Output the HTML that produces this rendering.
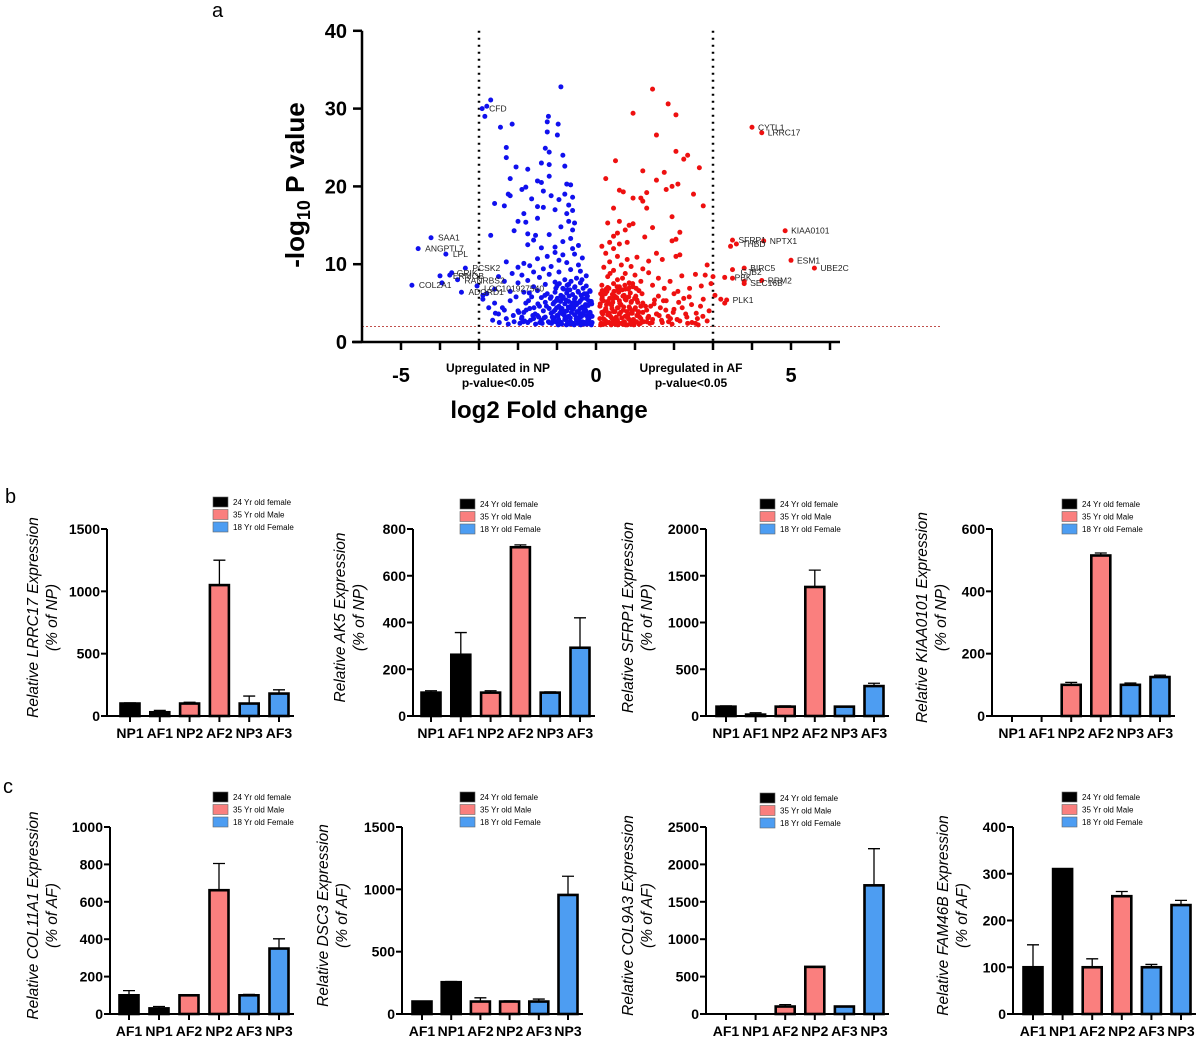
<!DOCTYPE html>
<html><head><meta charset="utf-8">
<style>
html,body{margin:0;padding:0;background:#fff;}
svg{display:block;font-family:"Liberation Sans",sans-serif;}
</style></head>
<body>
<svg id="fig" width="1200" height="1037" viewBox="0 0 1200 1037">
<text x="212" y="17" font-size="20">a</text>
<text x="5" y="503" font-size="20">b</text>
<text x="3" y="793" font-size="20">c</text>
<g id="volcano"></g>
<g id="bars"></g>
</svg>
<script>
// ---------- Volcano data ----------
const blueLfc = [-0.9,-2.7,-2.8,-2.92,-2.85,-1.22,-1.25,-0.97,-2.15,-2.45,-1.25,-0.99,-2.3,-2.3,-1.3,-1.2,-0.85,-1.4,-1.2,-0.8,-1.75,-2.05,-1.2,-0.65,-0.75,-2.2,-1.5,-1.4,-1.8,-1.9,-0.8,-2.2,-2.25,-1.15,-1.35,-1.65,-0.95,-0.6,-2.35,-1.35,-1.5,-0.7,-2.6,-0.75,-0.6,-1.05,-1.5,-1.85,-0.7,-0.55,-1.8,-2.0,-2.1,-0.9,-0.6,-1.75,-1.55,-1.2,-0.65,-0.85,-2.7,-1.6,-1.75,-0.45,-1.4,-1.05,-0.6,
-2.3,-2.0,-1.85,-1.7,-1.5,-1.25,-1.05,-0.85,-0.55,-0.35,-0.95,-0.75,-0.45,-1.15,-1.35,-1.6,-1.9,-2.15,-2.5,-2.35,-2.0,-1.75,-1.45,-1.2,-0.95,-0.65,-0.4,-0.25,-0.5,-0.8,-1.05,-1.3,-1.6,-2.6,-2.2,-1.85,
-1.0,-0.85,-0.7,-0.55,-0.4,-0.25,-0.15,-0.3,-0.45,-0.6,-0.75,-0.9,-1.05,-1.15,-1.0,-0.85,-0.7,-0.55,-0.4,-0.25,-0.12,-0.2,-0.35,-0.5,-0.65,-0.8,-0.95,-1.1,-1.2,-1.05,-0.9,-0.75,-0.6,-0.45,-0.3,-0.15,-0.1,-0.25,-0.4,-0.55,-0.7,-0.85,-1.0,-1.15,-1.3,-1.1,-0.95,-0.8,-0.65,-0.5,-0.35,-0.2,-0.1,-0.3,-0.6,-0.9,-1.2,-1.4,-1.5,-1.35,-1.45,-1.3,-1.4,-1.25,-1.5,
-0.18,-0.32,-0.48,-0.62,-0.78,-0.92,-1.08,-0.22,-0.38,-0.52,-0.68,-0.82,-0.98,-0.28,-0.42,-0.58,-0.72,-0.88,-1.02,-0.14,-0.36,-0.64,-0.86,
-2.9,-2.8,-2.6,-2.5,-2.4,-2.3,-2.2,-2.1,-2.0,-1.9,-1.8,-1.75,-1.7,-1.65,-1.6,-1.55,-2.65,-1.95,-2.25,-2.75,-1.85,-2.05,
-4.23,-4.56,-3.85,-4.72,-3.35,-3.7,-3.75,-4.0,-3.55,-3.95,-3.45,-3.05,-2.9];
const blueP = [32.8,31.1,30.3,30,29,29,28.3,28,28,27.6,27,26.6,25,23.7,24.9,24.4,24,23,22.8,22.6,22.2,22.5,21.3,20.2,20.3,21,20.7,20.5,19.9,19.6,19,18.8,19,18.8,19.4,18.4,18.3,18.6,17.5,17.3,17.4,17.6,17.8,16.5,16.9,17,15.9,16.5,15.5,15.3,15.4,15.5,14.3,14.8,14.4,13.9,13.7,13.8,13.3,12.9,13.7,13.1,12.5,12.4,12.1,12.2,12,
10.3,9.6,10.1,9.8,10.7,11,11.5,11.2,11.3,10.8,10.5,10.2,9.9,9.7,9.4,9,8.6,8.8,8.4,7.8,7.6,7.9,8.3,8.7,9,9.3,9.1,8.5,8.2,8,7.7,7.4,7.1,6.8,6.5,6.4,
7.2,6.9,7.4,7,7.6,7.2,6.5,6.2,6.4,6.1,6.3,6,6.4,5.8,5.4,5.6,5.2,5.5,5.3,5.6,5.2,4.7,4.5,4.8,4.6,4.9,4.6,4.9,4.3,4.1,4.2,4,4.2,3.9,4.1,3.8,3.3,3.4,3.2,3.5,3.3,3.6,3.4,3.7,3.2,2.9,2.7,2.9,2.6,2.8,2.6,2.8,2.5,2.3,2.3,2.4,2.5,2.8,3.4,4,4.6,5.1,5.7,6.2,6.6,
3.0,2.5,3.1,2.4,3.0,2.5,3.1,5.9,6.0,5.0,4.4,3.9,3.3,4.4,3.6,5.0,6.7,5.8,5.3,3.5,8.0,7.8,4.0,
5.5,6.2,5,3.6,4.4,3,5.3,2.6,4,3.2,5,2.5,4.3,5.8,3,2.3,2.8,2.4,2.3,4.4,3.8,5.8,
13.4,12.0,11.3,7.3,9.5,8.9,8.6,8.5,8.0,7.6,6.4,7.2,6.0];
const blueCoreLfc = [-0.13,-0.21,-0.29,-0.37,-0.44,-0.51,-0.59,-0.66,-0.73,-0.81,-0.89,-0.96,-1.04,-1.12,-0.17,-0.26,-0.34,-0.41,-0.49,-0.57,-0.63,-0.71,-0.79,-0.87,-0.93,-1.01,-1.09,-0.11,-0.19,-0.27,-0.35,-0.43,-0.53,-0.61,-0.69,-0.77,-0.84,-0.91,-0.99,-1.07,-0.16,-0.24,-0.33,-0.46,-0.54,-0.67,-0.74,-0.83,-0.94,-1.03,-0.12,-0.23,-0.39,-0.47,-0.56,-0.68,-0.76,-0.88,-0.97,-1.14,
-1.22,-1.33,-1.44,-1.56,-1.68,-1.79,-1.91,-1.27,-1.38,-1.49,-1.62,-1.73,-1.86,-1.98,-1.17,-1.31,-1.47,-1.59,-1.71,-1.83,-2.12,-2.35,-2.48,-2.58];
const bluePCore = [2.4,2.9,2.5,3.3,2.7,3.0,2.4,3.1,2.6,3.4,2.5,2.9,2.6,3.2,3.6,4.0,3.7,4.3,3.9,4.4,3.8,4.5,3.9,4.3,3.7,4.4,3.9,4.9,5.3,4.8,5.6,5.1,5.7,5.0,5.9,5.4,5.8,5.2,5.6,5.1,6.6,6.2,6.9,6.5,7.1,6.7,7.3,6.8,7.5,6.9,2.2,2.3,2.2,2.4,2.2,2.3,2.2,2.3,2.2,2.4,
2.6,3.1,2.5,3.6,2.8,4.1,3.0,4.6,2.4,4.9,3.4,5.3,2.6,3.8,5.6,6.0,3.2,4.4,6.3,2.7,3.4,4.1,2.5,3.7];
const redLfc = [1.45,1.85,2.05,0.95,1.55,2.05,2.35,2.25,2.65,0.5,0.25,1.2,1.75,1.55,1.95,2.1,0.6,0.7,1.3,1.8,2.5,0.95,1.15,1.2,2.75,0.45,1.3,1.95,0.6,0.85,0.95,1.45,2.15,2.05,0.75,1.25,0.3,0.45,0.55,1.95,2.15,2.05,1.55,1.7,1.35,0.35,0.6,0.15,0.8,0.45,
0.25,0.55,0.8,1.05,0.35,0.65,0.9,1.2,0.2,0.45,0.75,1.0,1.35,1.6,1.9,2.2,2.55,2.85,2.95,2.7,2.4,2.1,0.3,0.55,0.85,1.15,1.45,1.75,
0.15,0.3,0.45,0.6,0.75,0.95,1.1,0.12,0.28,0.42,0.58,0.72,0.88,1.02,1.18,0.15,0.3,0.45,0.6,0.75,0.9,1.05,1.2,0.1,0.25,0.4,0.55,0.7,0.85,1.0,1.15,1.3,0.15,0.3,0.45,0.6,0.75,0.9,1.05,1.2,1.35,0.1,0.25,0.4,0.55,0.7,0.85,1.0,1.15,1.3,0.2,0.5,0.8,1.1,1.45,1.55,1.4,1.5,
0.18,0.34,0.52,0.66,0.82,0.98,0.22,0.38,0.64,0.92,0.16,0.48,0.78,1.08,0.26,0.56,0.86,0.36,0.68,
1.7,1.85,2.0,2.15,2.3,2.45,2.6,2.75,2.9,3.05,3.2,1.65,1.8,1.95,2.25,2.55,2.85,2.35,1.6,2.0,3.0,2.8,
4.0,4.25,4.85,3.5,4.3,3.45,3.6,5.0,5.6,3.5,3.8,3.3,3.5,3.8,3.8,4.25,3.35,3.3];
const redP = [32.5,30.6,29.2,29.4,26.6,24.5,24,23.5,22.4,23.3,21,22,21.8,20.8,20,20.3,19.5,19.3,19.2,19.6,19,18.5,18.5,18.1,17.5,17.2,17.2,16.1,15.5,15,15.2,14.7,14.1,13.2,14.4,13.5,15.3,13.6,14,13,11.2,11,11.4,10.6,10.4,12.8,12.6,12.3,12.8,12,
11.4,11,10.6,10.9,10.3,9.9,9.7,9.4,9.6,9.2,8.8,8.6,8.9,8.2,7.8,8.5,8.7,9.9,7.5,7.2,6.9,6.5,8.4,8,7.6,7.8,7.3,6.9,
7.3,7,7.5,7.1,6.8,7.1,6.6,6.2,6.5,6.1,6.4,6,6.3,5.9,6.2,5.5,5.2,5.6,5.3,5.5,5.1,5.4,5,4.6,4.3,4.7,4.4,4.1,4.5,4.2,4.6,4.1,3.8,3.5,3.9,3.6,3.3,3.7,3.4,3.8,3.3,3,2.7,3.1,2.8,2.5,2.9,2.6,3,2.6,2.3,2.3,2.2,2.3,2.9,3.6,4.6,5.4,
3.0,2.5,3.2,2.4,3.1,2.6,4.0,4.9,4.8,4.0,5.8,5.9,5.7,3.6,6.8,6.7,7.0,8.8,8.2,
2.5,3.3,4.2,2.7,3.6,4.8,3,5.5,4,6,5.5,4.4,5.3,2.3,5.6,2.4,2.7,2.4,5.9,6.2,8.4,8.6,
27.6,26.9,14.3,13.1,13.0,12.3,12.6,10.5,9.5,9.3,9.5,8.3,8.2,7.8,7.5,7.9,5.4,5.0];
const redCoreLfc = [0.13,0.21,0.29,0.37,0.44,0.51,0.59,0.66,0.73,0.81,0.89,0.96,1.04,1.12,0.17,0.26,0.34,0.41,0.49,0.57,0.63,0.71,0.79,0.87,0.93,1.01,1.09,0.11,0.19,0.27,0.35,0.43,0.53,0.61,0.69,0.77,0.84,0.91,0.99,1.07,0.16,0.24,0.33,0.46,0.54,0.67,0.74,0.83,0.94,1.03,0.12,0.23,0.39,0.47,0.56,0.68,0.76,0.88,0.97,1.14,
1.22,1.33,1.44,1.56,1.68,1.79,1.91,1.27,1.38,1.49,1.62,1.73,1.86,1.98,2.08,2.21,2.33,2.46,2.57,2.68,2.12,2.39,2.62,2.74];
const redPCore = [2.4,2.9,2.5,3.3,2.7,3.0,2.4,3.1,2.6,3.4,2.5,2.9,2.6,3.2,3.6,4.0,3.7,4.3,3.9,4.4,3.8,4.5,3.9,4.3,3.7,4.4,3.9,4.9,5.3,4.8,5.6,5.1,5.7,5.0,5.9,5.4,5.8,5.2,5.6,5.1,6.6,6.2,6.9,6.5,7.1,6.7,7.3,6.8,7.5,6.9,2.2,2.3,2.2,2.4,2.2,2.3,2.2,2.3,2.2,2.4,
2.6,3.1,2.5,3.6,2.8,4.1,3.0,4.6,2.4,4.9,3.4,5.3,2.6,3.8,2.9,4.4,3.2,2.5,3.7,4.6,5.1,5.8,2.2,3.3];
const blueLabels = ["SAA1","ANGPTL7","LPL","COL2A1","PCSK2","GRIK","ERMOB","RANRBS2","ADGRD1","LOC101927540","CFD"];
const blueLabelLfc = [-4.23,-4.56,-3.85,-4.72,-3.35,-3.75,-3.85,-3.55,-3.45,-3.05,-2.92];
const blueLabelP = [13.4,12.0,11.3,7.3,9.5,8.9,8.5,7.9,6.4,6.9,30];
const redLabels = ["CYTL1","LRRC17","KIAA0101","SFRP1","NPTX1","THBD","ESM1","UBE2C","BIRC5","GJB2","PBK","SEC16B","RRM2","PLK1"];
const redLabelLfc = [4.0,4.25,4.85,3.5,4.3,3.6,5.0,5.6,3.8,3.55,3.4,3.8,4.25,3.35];
const redLabelP = [27.6,26.9,14.3,13.1,13.0,12.6,10.5,9.5,9.5,9.0,8.3,7.6,7.9,5.4];
const volXTicks = [-5,0,5];
const volYTicks = [0,10,20,30,40];

const NS="http://www.w3.org/2000/svg";
function mk(tag, attrs, parent){const e=document.createElementNS(NS,tag);for(const k in attrs)e.setAttribute(k,attrs[k]);parent.appendChild(e);return e;}

// ---------- Volcano ----------
(function(){
  const g=document.getElementById('volcano');
  const vx=v=>596+39*v, vy=v=>342-7.78*v;
  let t=mk('line',{x1:362,x2:942,y1:vy(2),y2:vy(2),stroke:'#c0504d','stroke-width':1,'stroke-dasharray':'2,2'},g);
  
  
  [-3,3].forEach(v=>{
    const l=mk('line',{x1:vx(v),x2:vx(v),y1:vy(40),y2:vy(0),stroke:'#000','stroke-width':2.5,'stroke-dasharray':'2,5'},g);
    
    
  });
  function drawPts(xs,ps,color,name){
    for(let i=0;i<xs.length;i++){
      const c=mk('circle',{cx:vx(xs[i]),cy:vy(ps[i]),r:2.5,fill:color},g);
      
      
    }
  }
  drawPts(blueLfc,blueP,'#1010ee','np-point');
  drawPts(blueCoreLfc,bluePCore,'#1010ee','np-point');
  drawPts(redLfc,redP,'#ee1010','af-point');
  drawPts(redCoreLfc,redPCore,'#ee1010','af-point');
  for(let i=0;i<blueLabels.length;i++){
    const tx=mk('text',{x:vx(blueLabelLfc[i])+7,y:vy(blueLabelP[i])+3,'font-size':8.5,fill:'#222'},g);
    tx.textContent=blueLabels[i];
    
    
  }
  for(let i=0;i<redLabels.length;i++){
    const tx=mk('text',{x:vx(redLabelLfc[i])+6,y:vy(redLabelP[i])+3,'font-size':8.5,fill:'#222'},g);
    tx.textContent=redLabels[i];
    
    
  }
  let a=mk('path',{d:`M362 ${vy(40)} V${vy(0)} M352 ${vy(0)} H840`,stroke:'#000','stroke-width':2.5,fill:'none'},g);
  
  
  for(let v=-5;v<=6;v++){
    const tk=mk('line',{x1:vx(v),x2:vx(v),y1:vy(0),y2:vy(0)+8,stroke:'#000','stroke-width':2.5},g);
    
    
  }
  volXTicks.forEach(v=>{
    const tx=mk('text',{x:vx(v),y:382,'font-size':20,'font-weight':'bold','text-anchor':'middle'},g);
    tx.textContent=String(v);
    
    
  });
  volYTicks.forEach(v=>{
    const tk=mk('line',{x1:353,x2:362,y1:vy(v),y2:vy(v),stroke:'#000','stroke-width':2.5},g);
    
    
    const tx=mk('text',{x:347,y:vy(v)+7,'font-size':20,'font-weight':'bold','text-anchor':'end'},g);
    tx.textContent=String(v);
    
    
  });
  const yt=mk('text',{x:0,y:0,'font-size':26,'font-weight':'bold','text-anchor':'middle',transform:'translate(304,185) rotate(-90)'},g);
  yt.innerHTML='-log<tspan font-size="18" dy="6">10</tspan><tspan dy="-6"> P value</tspan>';
  
  
  const xt=mk('text',{x:549,y:418,'font-size':24,'font-weight':'bold','text-anchor':'middle'},g);
  xt.textContent='log2 Fold change';
  
  
  [[498,'Upregulated in NP'],[691,'Upregulated in AF']].forEach(([x,s])=>{
    const a1=mk('text',{x:x,y:372,'font-size':12,'font-weight':'bold','text-anchor':'middle'},g);a1.textContent=s;
    
    
    const a2=mk('text',{x:x,y:387,'font-size':12,'font-weight':'bold','text-anchor':'middle'},g);a2.textContent='p-value<0.05';
    
    
  });
})();

// ---------- Bar charts data ----------
const bCats = ["NP1","AF1","NP2","AF2","NP3","AF3"];
const cCats = ["AF1","NP1","AF2","NP2","AF3","NP3"];
const lrrc17Vals=[100,30,100,1050,100,180], lrrc17Err=[5,15,10,200,60,30];
const ak5Vals=[100,262,100,722,100,292], ak5Err=[8,95,8,10,3,128];
const sfrp1Vals=[100,15,100,1380,100,320], sfrp1Err=[8,20,8,180,5,30];
const kiaaVals=[0,0,100,515,100,125], kiaaErr=[0,0,8,8,6,6];
const col11Vals=[100,30,100,662,100,350], col11Err=[25,10,3,143,5,52];
const dsc3Vals=[100,255,100,100,100,955], dsc3Err=[0,5,30,5,20,150];
const col9Vals=[0,0,100,630,100,1720], col9Err=[0,0,25,0,5,490];
const famVals=[100,310,100,252,100,233], famErr=[48,0,18,10,6,10];
const lrrc17Ticks=[0,500,1000,1500], ak5Ticks=[0,200,400,600,800], sfrp1Ticks=[0,500,1000,1500,2000], kiaaTicks=[0,200,400,600];
const col11Ticks=[0,200,400,600,800,1000], dsc3Ticks=[0,500,1000,1500], col9Ticks=[0,500,1000,1500,2000,2500], famTicks=[0,100,200,300,400];
const legendLabels=["24 Yr old female","35 Yr old Male","18 Yr old Female"];
const barColors=["#000000","#fa7f7e","#4d9df2"];

const panels=[
 {name:'lrrc17',ax:107,c0:130,c1:279,top:529,bot:716,cats:bCats,v:lrrc17Vals,e:lrrc17Err,ticks:lrrc17Ticks,gene:'LRRC17 ',unit:'(% of NP)',tx:38,lx:213,ly:497},
 {name:'ak5',ax:413,c0:431,c1:580,top:529,bot:716,cats:bCats,v:ak5Vals,e:ak5Err,ticks:ak5Ticks,gene:'AK5',unit:'(% of NP)',tx:345,lx:460,ly:499},
 {name:'sfrp1',ax:706,c0:726,c1:874,top:529,bot:716,cats:bCats,v:sfrp1Vals,e:sfrp1Err,ticks:sfrp1Ticks,gene:'SFRP1',unit:'(% of NP)',tx:633,lx:760,ly:499},
 {name:'kiaa0101',ax:992,c0:1012,c1:1160,top:529,bot:716,cats:bCats,v:kiaaVals,e:kiaaErr,ticks:kiaaTicks,gene:'KIAA0101 ',unit:'(% of NP)',tx:927,lx:1062,ly:499},
 {name:'col11a1',ax:110,c0:129,c1:279,top:827,bot:1014,cats:cCats,v:col11Vals,e:col11Err,ticks:col11Ticks,gene:'COL11A1',unit:'(% of AF)',tx:38,lx:213,ly:792},
 {name:'dsc3',ax:402,c0:422,c1:568,top:827,bot:1014,cats:cCats,v:dsc3Vals,e:dsc3Err,ticks:dsc3Ticks,gene:'DSC3 ',unit:'(% of  AF)',tx:328,lx:460,ly:792},
 {name:'col9a3',ax:706,c0:726,c1:874,top:827,bot:1014,cats:cCats,v:col9Vals,e:col9Err,ticks:col9Ticks,gene:'COL9A3',unit:'(% of  AF)',tx:633,lx:760,ly:793},
 {name:'fam46b',ax:1013,c0:1033,c1:1181,top:827,bot:1014,cats:cCats,v:famVals,e:famErr,ticks:famTicks,gene:'FAM46B',unit:'(% of AF)',tx:948,lx:1062,ly:792}
];

(function(){
  const root=document.getElementById('bars');
  panels.forEach(p=>{
    const g=mk('g',{},root);
    
    
    const max=p.ticks[p.ticks.length-1];
    const y=v=>p.bot-(p.bot-p.top)*v/max;
    const step=(p.c1-p.c0)/(p.cats.length-1);
    const x=i=>p.c0+step*i;
    const bw=19;
    p.v.forEach((v,i)=>{
      if(p.e[i]>0){
        const e=mk('path',{d:`M${x(i)} ${y(v)} V${y(v+p.e[i])} M${x(i)-6} ${y(v+p.e[i])} H${x(i)+6}`,stroke:'#000','stroke-width':1.3,fill:'none'},g);
        
        
      }
      if(v>0){
        const r=mk('rect',{x:x(i)-bw/2,y:y(v),width:bw,height:p.bot-y(v),fill:barColors[Math.floor(i/2)],stroke:'#000','stroke-width':2.6},g);
        
        
      }
    });
    const ax=mk('path',{d:`M${p.ax} ${p.top} V${p.bot} H${x(5)+15}`,stroke:'#000','stroke-width':2,fill:'none'},g);
    
    
    p.ticks.forEach(t=>{
      const tk=mk('line',{x1:p.ax-6,x2:p.ax,y1:y(t),y2:y(t),stroke:'#000','stroke-width':2},g);
      
      
      const tl=mk('text',{x:p.ax-7,y:y(t)+5,'font-size':14,'font-weight':'bold','text-anchor':'end'},g);
      tl.textContent=String(t);
      
      
    });
    p.cats.forEach((c,i)=>{
      const tk=mk('line',{x1:x(i),x2:x(i),y1:p.bot,y2:p.bot+6,stroke:'#000','stroke-width':2},g);
      
      
      const tl=mk('text',{x:x(i),y:p.bot+22,'font-size':14,'font-weight':'bold','text-anchor':'middle'},g);
      tl.textContent=c;
      
      
    });
    const cy=(p.top+p.bot)/2-5;
    const t1=mk('text',{x:0,y:0,'font-size':15.5,'text-anchor':'middle','font-style':'italic',transform:`translate(${p.tx},${cy}) rotate(-90)`},g);
    t1.textContent='Relative '+p.gene+' Expression';
    
    
    const t2=mk('text',{x:0,y:0,'font-size':15.5,'text-anchor':'middle','font-style':'italic',transform:`translate(${p.tx+19},${cy}) rotate(-90)`},g);
    t2.textContent=p.unit;
    
    
    legendLabels.forEach((l,i)=>{
      const r=mk('rect',{x:p.lx,y:p.ly+i*12.5,width:15,height:10,fill:barColors[i],stroke:'#666','stroke-width':0.6},g);
      
      
      const lt=mk('text',{x:p.lx+20,y:p.ly+i*12.5+8,'font-size':8},g);
      lt.textContent=l;
      
      
    });
  });
})();
</script>
</body></html>
